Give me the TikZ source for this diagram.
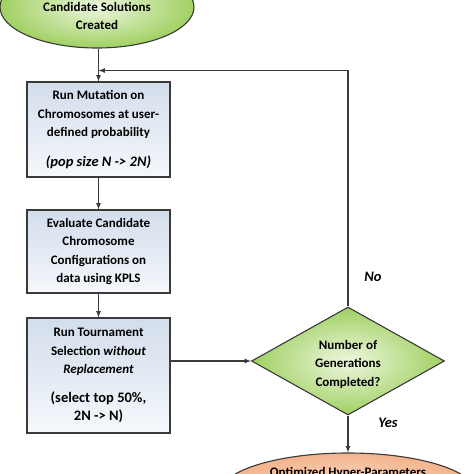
\documentclass[tikz,border=0pt]{standalone}
\usepackage{fontspec}
\setmainfont{Carlito}
\usetikzlibrary{shapes.geometric}
\definecolor{boxline}{HTML}{3A3A3A}
\definecolor{boxtop}{HTML}{D3DDEB}
\definecolor{boxbot}{HTML}{F5F8FC}
\definecolor{greenout}{HTML}{A0D062}
\definecolor{greenin}{HTML}{EEF7DF}
\definecolor{orangeout}{HTML}{F3B48C}
\definecolor{orangein}{HTML}{FBE1D0}
\tikzset{
  procbox/.style={draw=boxline,line width=1.1pt,top color=boxtop,bottom color=boxbot,
    minimum width=143pt,align=center,inner sep=2pt},
  txt/.style={font=\bfseries\fontsize{13}{18.5}\selectfont,align=center},
  flowline/.style={draw=boxline,line width=1.2pt}
}
\newcommand\bigtxt{\fontsize{14.5}{18.5}\selectfont}
\begin{document}
\begin{tikzpicture}[x=1pt,y=-1pt,>=latex]
\useasboundingbox (0,0) rectangle (474,474);
\clip (0,0) rectangle (474,474);
\node[ellipse,draw=boxline,line width=1.1pt,inner color=greenin,outer color=greenout,
  minimum width=194pt,minimum height=82pt] (start) at (97,7) {};
\node[txt] (starttxt) at (97,16) {Candidate Solutions\\Created};
\node[procbox,minimum height=95pt,txt] (mut) at (98.5,129.5)
  {Run Mutation on\\Chromosomes at user-\\defined probability\\[11pt]
   \itshape\bigtxt (pop size N -> 2N)};
\node[procbox,minimum height=83pt,txt] (eval) at (98.5,251.5)
  {Evaluate Candidate\\Chromosome\\Configurations on\\data using KPLS};
\node[procbox,minimum height=115pt,txt] (sel) at (98.5,375.5)
  {Run Tournament\\Selection \textit{without}\\\textit{Replacement}\\[10pt]
   \bigtxt (select top 50\%,\\\bigtxt 2N -> N)};
\node[diamond,draw=boxline,line width=1.1pt,inner color=greenin,outer color=greenout,
  minimum width=193pt,minimum height=108pt,aspect=1.8,inner sep=0pt] (gen) at (348,361) {};
\node[txt] (gentxt) at (348,364) {Number of\\Generations\\Completed?};
\node[ellipse,draw=boxline,line width=1.1pt,inner color=orangein,outer color=orangeout,
  minimum width=256pt,minimum height=80pt] (done) at (348,493) {};
\node[txt,anchor=north] (donetxt) at (348,464) {Optimized Hyper-Parameters};
\node[txt,font=\bfseries\itshape\bigtxt] (no) at (373,277) {No};
\node[txt,font=\bfseries\itshape\bigtxt] (yes) at (388,423) {Yes};
\coordinate (merge) at (98.5,70.5);
\draw[->,flowline] (start.south -| mut.north) -- (mut);
\draw[->,flowline] (mut) -- (eval);
\draw[->,flowline] (eval) -- (sel);
\draw[->,flowline] (sel.east |- gen.west) -- (gen.west);
\draw[->,flowline] (gen.north) |- (merge);
\draw[->,flowline] (gen.south) -- (done.north);
\end{tikzpicture}
\end{document}
